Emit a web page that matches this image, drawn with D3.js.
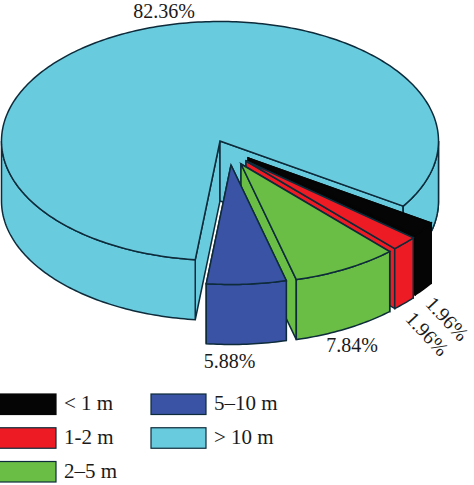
<!DOCTYPE html>
<html>
<head>
<meta charset="utf-8">
<script src="https://cdn.jsdelivr.net/npm/d3@7"></script>
<style>html,body{margin:0;padding:0;background:#fff}svg{display:block}text{font-family:"Liberation Serif",serif;fill:#1a1a1a}</style>
</head>
<body>
<div id="chart"></div>
<script>
const categories = ["< 1 m", "1-2 m", "2–5 m", "5–10 m", "> 10 m"];
const values = [1.96, 1.96, 7.84, 5.88, 82.36];
const valueLabels = ["1.96%", "1.96%", "7.84%", "5.88%", "82.36%"];
const colors = ["#050505", "#ED1C24", "#6ABD45", "#3A53A4", "#69CBDE"];

const W = 474, H = 485;
const cx = 220, cy = 141, rx = 218.5, ry = 119.5, depth = 60;
const deg = Math.PI / 180;
const startDeg = 123;
// exploded offset of each slice from the pie centre
const explode = [[28, 17], [26, 20], [21, 23], [11, 24], [0, 0]];
const stroke = "#0d2b3a";

const svg = d3.select("#chart").append("svg").attr("width", W).attr("height", H);

const arcs = d3.pie().sort(null).value(d => d)
  .startAngle(startDeg * deg).endAngle(startDeg * deg + 2 * Math.PI)(values);

const line = d3.line();
const pt = (a, o, dz = 0) => [cx + o[0] + rx * Math.sin(a), cy + o[1] - ry * Math.cos(a) + dz];
const arcPts = (a0, a1, o, dz = 0) => {
  const n = Math.max(2, Math.ceil((a1 - a0) / (1 * deg)));
  return d3.range(n + 1).map(i => pt(a0 + (a1 - a0) * i / n, o, dz));
};
const apex = (o, dz = 0) => [cx + o[0], cy + o[1] + dz];

function face(points, fill, s) {
  svg.append("path").attr("d", line(points) + "Z")
    .attr("fill", fill).attr("stroke", s).attr("stroke-width", 1.5).attr("stroke-linejoin", "miter");
}

function outerWall(a0, a1, o, fill, s) {
  // only the near half of the rim (90° to 270°, also repeated one turn later) faces the viewer
  [[90, 270], [450, 630]].forEach(([l, h]) => {
    const b0 = Math.max(a0, l * deg), b1 = Math.min(a1, h * deg);
    if (b1 > b0) face(arcPts(b0, b1, o).concat(arcPts(b0, b1, o, depth).reverse()), fill, s);
  });
}

// painter's order: far slice first, then from right to left
[4, 0, 1, 2, 3].forEach(i => {
  const d = arcs[i], o = explode[i], c = colors[i];
  const s = c === colors[0] ? colors[0] : stroke;
  const a0 = d.startAngle, a1 = d.endAngle;
  [a0, a1].forEach(a => face([apex(o), pt(a, o), pt(a, o, depth), apex(o, depth)], c, s));
  outerWall(a0, a1, o, c, s);
  outerWall(a0 - 2 * Math.PI, a1 - 2 * Math.PI, o, c, s);
  face([apex(o)].concat(arcPts(a0, a1, o)), c, s);
});

// value labels
const labelSpec = [
  {x: 447, y: 319, r: 47},
  {x: 427, y: 334, r: 47},
  {x: 352, y: 352, r: 0, base: true},
  {x: 229.5, y: 368, r: 0, base: true},
  {x: 164, y: 18, r: 0, base: true}
];
svg.selectAll("text.val").data(valueLabels).join("text").attr("class", "val")
  .attr("transform", (d, i) => `translate(${labelSpec[i].x},${labelSpec[i].y}) rotate(${labelSpec[i].r})`)
  .attr("dy", (d, i) => labelSpec[i].base ? 0 : "0.33em")
  .attr("text-anchor", "middle").attr("font-size", 20).text(d => d);

// legend
const rowY = d3.scaleLinear().domain([0, 2]).range([394, 461.5]);
const colX = d3.scaleLinear().domain([0, 1]).range([-2, 151]);
const swW = [58, 55], swH = 20.5;
categories.forEach((c, i) => {
  const col = i < 3 ? 0 : 1, row = i < 3 ? i : i - 3;
  const x = colX(col), y = rowY(row);
  svg.append("rect").attr("x", x).attr("y", y).attr("width", swW[col]).attr("height", swH)
    .attr("fill", colors[i]).attr("stroke", i === 0 ? colors[0] : stroke).attr("stroke-width", 1.2);
  svg.append("text").attr("x", col ? 214 : 64).attr("y", y + 16).attr("font-size", 21).text(c);
});
</script>
</body>
</html>
